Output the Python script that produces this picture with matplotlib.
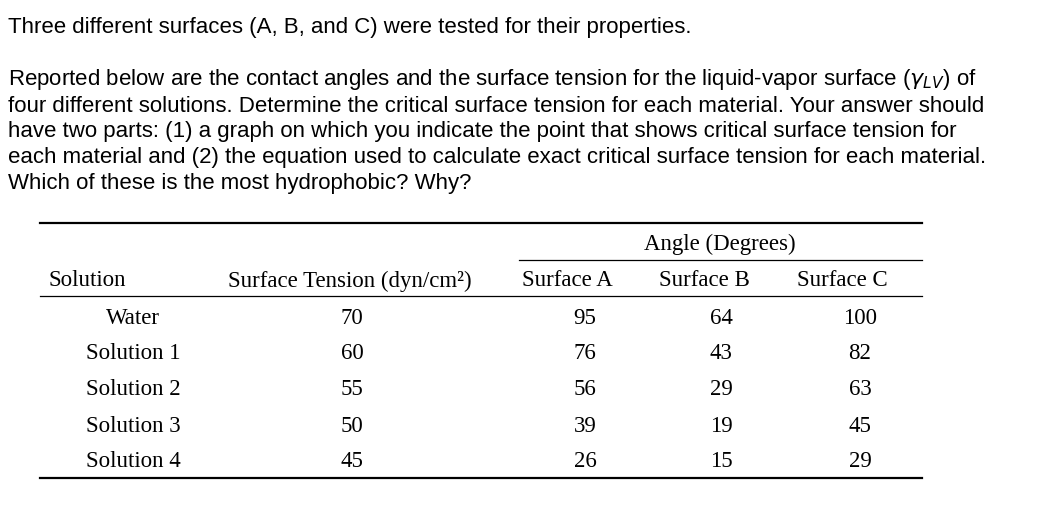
import matplotlib
matplotlib.use("Agg")
import matplotlib.pyplot as plt
from matplotlib.lines import Line2D

W, H = 1062, 510
solutions = ["Water", "Solution 1", "Solution 2", "Solution 3", "Solution 4"]
tension = [70, 60, 55, 50, 45]
surf_a = [95, 76, 56, 39, 26]
surf_b = [64, 43, 29, 19, 15]
surf_c = [100, 82, 63, 45, 29]

question = [
    "Three different surfaces (A, B, and C) were tested for their properties.",
    "",
    r"Reported below are the contact angles and the surface tension for the liquid-vapor surface ($\gamma_{LV}$) of",
    "four different solutions. Determine the critical surface tension for each material. Your answer should",
    "have two parts: (1) a graph on which you indicate the point that shows critical surface tension for",
    "each material and (2) the equation used to calculate exact critical surface tension for each material.",
    "Which of these is the most hydrophobic? Why?",
]
line_y = [28, 54, 80, 106, 132, 158, 183]

fig = plt.figure(figsize=(W/100, H/100), dpi=100)
fig.patch.set_facecolor("white")

def tx(x, y, s, **kw):
    fig.text(x/W, 1 - y/H, s, va="center", **kw)

def hline(x0, x1, y, lw):
    fig.add_artist(Line2D([x0/W, x1/W], [1-y/H, 1-y/H], color="black", lw=lw))

for s, y in zip(question, line_y):
    if s:
        tx(8, y, s, family="Liberation Sans", fontsize=16)

serif = dict(family="Liberation Serif", fontsize=16.5)
hline(40, 922, 224, 1.6)
tx(720, 244, "Angle (Degrees)", ha="center", **serif)
hline(519, 922, 261, 0.9)
tx(48, 281, "Solution", ha="left", **serif)
tx(350, 281, "Surface Tension (dyn/cm²)", ha="center", **serif)
tx(567, 281, "Surface A", ha="center", **serif)
tx(704, 281, "Surface B", ha="center", **serif)
tx(842, 281, "Surface C", ha="center", **serif)
hline(40, 922, 297, 0.9)

row_y = [318, 354, 390, 426, 462]
for i, y in enumerate(row_y):
    tx(133, y, solutions[i], ha="center", **serif)
    tx(352, y, str(tension[i]), ha="center", **serif)
    tx(585, y, str(surf_a[i]), ha="center", **serif)
    tx(721, y, str(surf_b[i]), ha="center", **serif)
    tx(860, y, str(surf_c[i]), ha="center", **serif)
hline(40, 922, 479, 1.6)

fig.savefig("out.png", dpi=100)
